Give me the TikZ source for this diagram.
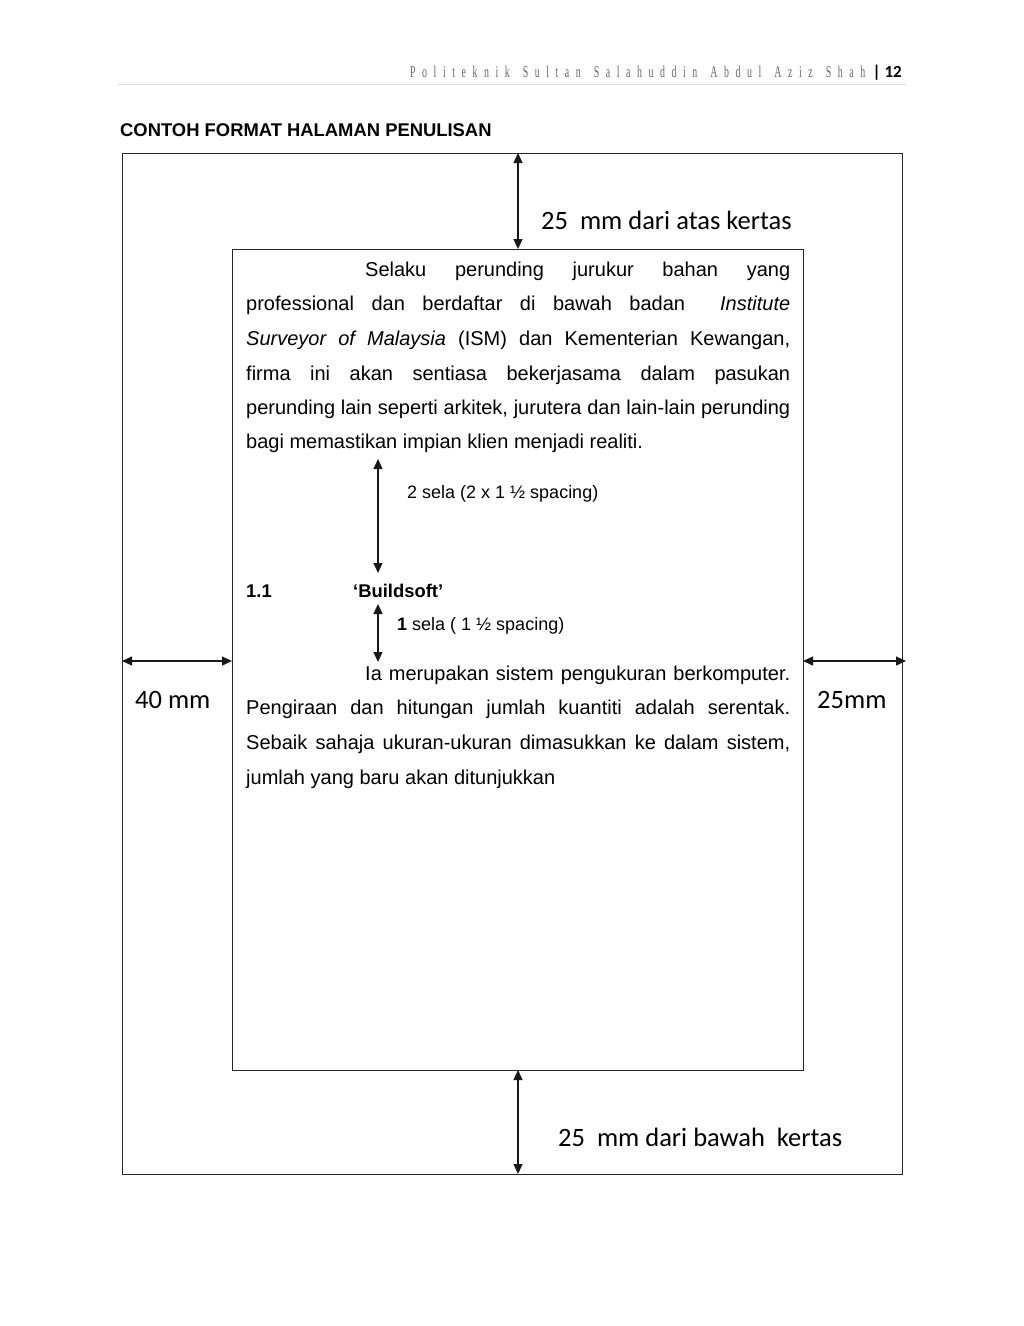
\documentclass[tikz,border=0pt]{standalone}
\usepackage{fontspec}
\setmainfont{Liberation Sans}
\newfontfamily\calfont{Carlito}
\newfontfamily\hdrfont[FakeStretch=0.6]{Liberation Serif}
\usetikzlibrary{arrows.meta}
\begin{document}
\begin{tikzpicture}[x=1pt,y=-1pt,
  frame/.style={draw=black!85, line width=1.2pt, inner sep=0pt, fill=none},
  dimarrow/.style={{Triangle[length=10pt,width=9pt]}-{Triangle[length=10pt,width=9pt]}, line width=1.3pt, black!90},
  bodytxt/.style={inner sep=0pt, anchor=base west, font=\fontsize{20}{24}\selectfont},
  smalltxt/.style={inner sep=0pt, anchor=base west, font=\fontsize{18}{22}\selectfont},
  dimtxt/.style={inner sep=0pt, anchor=base west, font=\calfont\fontsize{26.5}{30}\selectfont},
  titletxt/.style={inner sep=0pt, anchor=base west, font=\bfseries\fontsize{18.4}{22}\selectfont},
  hdrtxt/.style={inner sep=0pt, anchor=base west, text=black!60, font=\hdrfont\fontsize{16.5}{18}\selectfont},
  pagenum/.style={inner sep=0pt, anchor=base east, font=\calfont\bfseries\fontsize{17}{20}\selectfont}
]
\useasboundingbox[fill=white] (0,0) rectangle (1024,1326);

% header
\node[hdrtxt] (hdr) at (410,77) {\makebox[455pt][l]{P\hfill o\hfill l\hfill i\hfill t\hfill e\hfill k\hfill n\hfill i\hfill k\hfill\hfill S\hfill u\hfill l\hfill t\hfill a\hfill n\hfill\hfill S\hfill a\hfill l\hfill a\hfill h\hfill u\hfill d\hfill d\hfill i\hfill n\hfill\hfill A\hfill b\hfill d\hfill u\hfill l\hfill\hfill A\hfill z\hfill i\hfill z\hfill\hfill S\hfill h\hfill a\hfill h}};
\node[pagenum] (pnum) at (902,77) {|\ 12};
\coordinate (rulea) at (118,84);
\coordinate (ruleb) at (906,84);
\draw[black!15, line width=0.8pt] (rulea) -- (ruleb);

% title
\node[titletxt] (title) at (120,136.5) {CONTOH FORMAT HALAMAN PENULISAN};

% frames
\node[frame, minimum width=780pt, minimum height=1021pt, anchor=north west] (page) at (122,153) {};
\node[frame, minimum width=571pt, minimum height=821pt, anchor=north west] (body) at (232,249) {};

% dimension arrows
\coordinate (topa) at (518,153);
\coordinate (topb) at (518,249);
\draw[dimarrow] (topa) -- (topb);
\coordinate (bota) at (518,1070);
\coordinate (botb) at (518,1174);
\draw[dimarrow] (bota) -- (botb);
\coordinate (lefta) at (122,661);
\coordinate (leftb) at (232,661);
\draw[dimarrow] (lefta) -- (leftb);
\coordinate (righta) at (803,661);
\coordinate (rightb) at (906,661);
\draw[dimarrow] (righta) -- (rightb);
\coordinate (mida) at (378,459);
\coordinate (midb) at (378,573);
\draw[dimarrow] (mida) -- (midb);
\coordinate (midc) at (378,604);
\coordinate (midd) at (378,662);
\draw[dimarrow] (midc) -- (midd);

% dimension labels
\node[dimtxt] (toplab) at (541,229.5) {25\ \ mm dari atas kertas};
\node[dimtxt] (botlab) at (558,1146.5) {25\ \ mm dari bawah\ \ kertas};
\node[dimtxt] (leftlab) at (135,708.5) {40 mm};
\node[dimtxt] (rightlab) at (817,708.5) {25mm};

% body paragraph 1
\node[bodytxt] (l1) at (365,276) {\makebox[425pt][s]{Selaku perunding jurukur bahan yang}};
\node[bodytxt] (l2) at (246,310) {\makebox[544pt][s]{professional dan berdaftar di bawah badan\ \ \textit{Institute}}};
\node[bodytxt] (l3) at (246,345) {\makebox[544pt][s]{\textit{Surveyor of Malaysia} (ISM) dan Kementerian Kewangan,}};
\node[bodytxt] (l4) at (246,380) {\makebox[544pt][s]{firma ini akan sentiasa bekerjasama dalam pasukan}};
\node[bodytxt] (l5) at (246,414) {\makebox[544pt][s]{perunding lain seperti arkitek, jurutera dan lain-lain perunding}};
\node[bodytxt] (l6) at (246,448) {bagi memastikan impian klien menjadi realiti.};

% spacing notes
\node[smalltxt] (sela2) at (407,498.5) {2 sela (2 x 1 ½ spacing)};
\node[smalltxt, font=\bfseries\fontsize{18.4}{22}\selectfont] (secnum) at (246,597) {1.1};
\node[smalltxt, font=\bfseries\fontsize{18.4}{22}\selectfont] (sectitle) at (353,597) {‘Buildsoft’};
\node[smalltxt] (sela1) at (397,630.5) {\textbf{1} sela ( 1 ½ spacing)};

% body paragraph 2
\node[bodytxt] (m1) at (365,680) {\makebox[425pt][s]{Ia merupakan sistem pengukuran berkomputer.}};
\node[bodytxt] (m2) at (246,714) {\makebox[544pt][s]{Pengiraan dan hitungan jumlah kuantiti adalah serentak.}};
\node[bodytxt] (m3) at (246,749) {\makebox[544pt][s]{Sebaik sahaja ukuran-ukuran dimasukkan ke dalam sistem,}};
\node[bodytxt] (m4) at (246,784) {jumlah yang baru akan ditunjukkan};
\end{tikzpicture}
\end{document}
